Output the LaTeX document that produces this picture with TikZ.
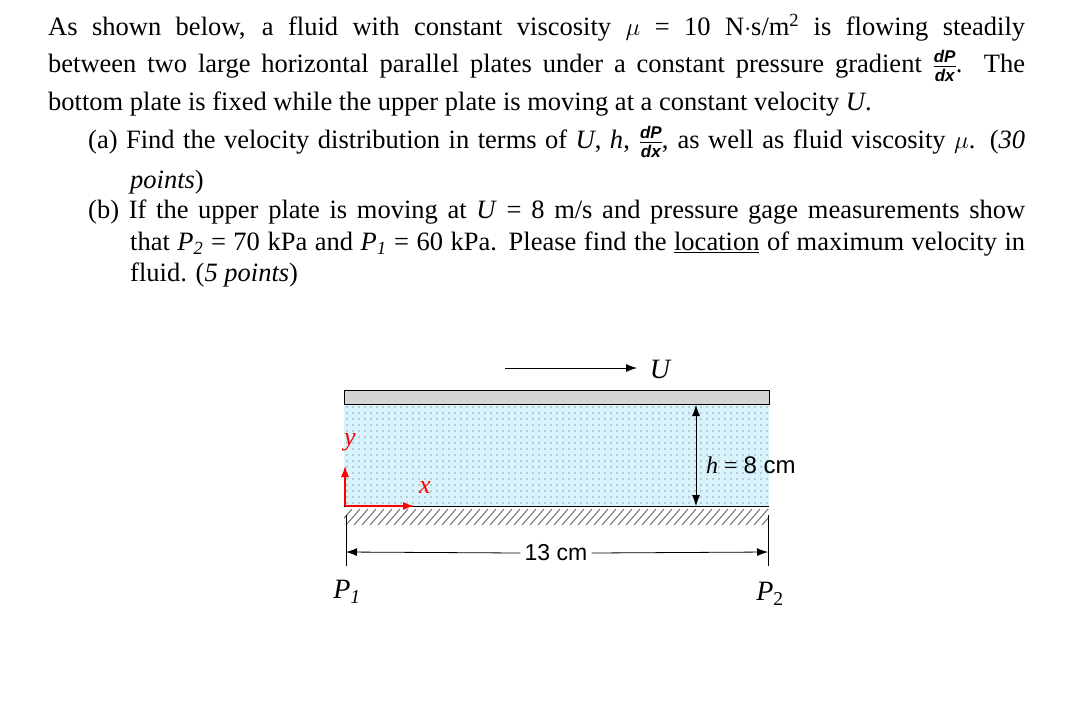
\documentclass[tikz,border=0pt]{standalone}
\usepackage{fontspec}
\setmainfont{Liberation Serif}
\setsansfont{Liberation Sans}
\usetikzlibrary{arrows.meta}
\newcommand{\jl}[2]{\makebox[#1][s]{#2}}
\newcommand{\fs}[1]{\hbox{\fontsize{17}{17}\selectfont\sffamily\bfseries\itshape #1}}
\newcommand{\dpdx}{$\frac{\fs{dP}}{\fs{dx}}$}
\begin{document}
\begin{tikzpicture}[x=1pt,y=-1pt,
  txt/.style={anchor=west,inner sep=0pt,font=\fontsize{26.5}{30}\selectfont},
  ar/.style={-{Latex[length=11,width=8]},line width=0.8}]
\useasboundingbox (0,0) rectangle (1086,724);
\node[txt] (l1) at (48,28) {\jl{977pt}{As shown below, a fluid with constant viscosity $\mu$ = 10 N$\cdot$s/m\textsuperscript{2} is flowing steadily}};
\node[txt] (l2) at (48,66) {\jl{977pt}{between two large horizontal parallel plates under a constant pressure gradient \dpdx\kern-1pt. The}};
\node[txt] (l3) at (48,104) {bottom plate is fixed while the upper plate is moving at a constant velocity \textit{U}.};
\node[txt] (l4) at (88,142) {\jl{937pt}{(a) Find the velocity distribution in terms of \textit{U}, \textit{h}, \dpdx\kern-1pt, as well as fluid viscosity $\mu$. (\textit{30}}};
\node[txt] (l5) at (130,182) {\textit{points})};
\node[txt] (l6) at (88,212) {\jl{937pt}{(b) If the upper plate is moving at \textit{U} = 8 m/s and pressure gage measurements show}};
\node[txt] (l7) at (130,244) {\jl{895pt}{that \textit{P}\textsubscript{\textit{2}} = 70 kPa and \textit{P}\textsubscript{\textit{1}} = 60 kPa. Please find the \underline{location} of maximum velocity in}};
\node[txt] (l8) at (130,275) {fluid. (\textit{5 points})};
% fluid
\fill[cyan!15!white] (344,404) rectangle (769,506);
\foreach \i in {0,...,70} {\foreach \j in {0,...,16} {\fill[black!70] (347+6*\i,407+6*\j) circle[radius=0.6];}}
\draw[fill=black!17,line width=0.8] (344,390) rectangle (769,404);
\draw[line width=0.8] (344,506) -- (769,506);
\begin{scope}
\clip (344,509) rectangle (769,525);
\foreach \i in {0,...,54} {\draw[black!60,line width=0.9] (338+8*\i,525) -- (352+8*\i,509);}
\end{scope}
% U arrow
\coordinate (ua) at (505,368); \coordinate (ub) at (637,368);
\draw[ar] (ua) -- (ub);
\node[font=\fontsize{28}{30}\selectfont\itshape] (U) at (660,369) {U};
% h
\coordinate (ha) at (696,405); \coordinate (hb) at (696,506);
\draw[ar,{Latex[length=11,width=8]}-{Latex[length=11,width=8]}] (ha) -- (hb);
\node[anchor=west,inner sep=0pt,font=\fontsize{24}{26}\selectfont] (h) at (706,465) {\textit{h} = \textsf{8 cm}};
% axes
\coordinate (o) at (345,506);
\coordinate (yt) at (345,466); \coordinate (xt) at (414,506);
\draw[red,ar,line width=1.2] (o) -- (yt);
\draw[red,ar,line width=1.2] (o) -- (xt);
\node[red,font=\fontsize{26}{26}\selectfont\itshape] (yl) at (350,442) {y};
\node[red,font=\fontsize{26}{26}\selectfont\itshape] (xl) at (425,488) {x};
% length
\draw[line width=0.8] (346,515) -- (346,566) (768,515) -- (768,566);
\coordinate (da) at (346,552); \coordinate (db) at (768,552);
\node[font=\sffamily\fontsize{23}{26}\selectfont,fill=white,inner sep=4pt] (len) at (556,553) {13 cm};
\draw[ar] (len.west) -- (da);
\draw[ar] (len.east) -- (db);
\node[font=\fontsize{28}{30}\selectfont] (p1) at (347,592) {\textit{P}\textsubscript{\textit{1}}};
\node[font=\fontsize{28}{30}\selectfont] (p2) at (770,594) {\textit{P}\textsubscript{2}};
\end{tikzpicture}
\end{document}
